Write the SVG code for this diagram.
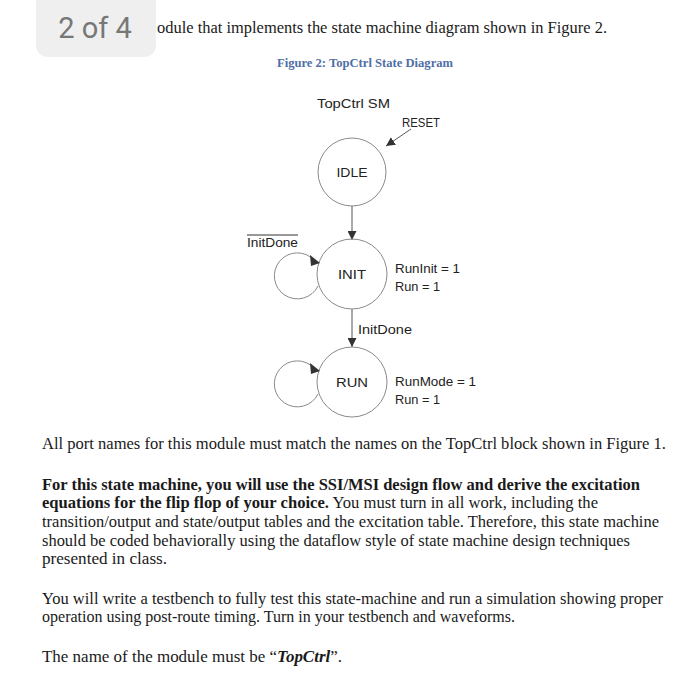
<svg xmlns="http://www.w3.org/2000/svg" width="700" height="690" viewBox="0 0 700 690">
<style>
.body{font-family:"Liberation Serif","Times New Roman",serif;font-size:17px;fill:#1a1a1a}
.b{font-weight:bold}
.sm{font-family:"Liberation Sans",Arial,sans-serif;font-size:13.5px;fill:#222}
.st{fill:none;stroke:#8a8a8a;stroke-width:1}
.cn{fill:none;stroke:#555;stroke-width:1}
</style>
<defs>
<marker id="ah" viewBox="0 0 10 10" refX="10" refY="5" markerWidth="9" markerHeight="9" markerUnits="userSpaceOnUse" orient="auto">
<path d="M0,0 L10,5 L0,10 z" fill="#333"/>
</marker>
</defs>
<rect width="700" height="690" fill="#fff"/>
<g id="badge">
<rect x="36" y="-12" width="120" height="69" rx="12" fill="#efefef"/>
<text x="95" y="38" text-anchor="middle" font-family="Roboto,'Liberation Sans',sans-serif" font-size="29" fill="#777">2 of 4</text>
</g>
<text class="body" x="157" y="33" font-size="18" textLength="450" lengthAdjust="spacingAndGlyphs">odule that implements the state machine diagram shown in Figure 2.</text>
<text x="365" y="67" text-anchor="middle" font-family="'Liberation Serif',serif" font-weight="bold" font-size="12" fill="#4f6fa6" textLength="176" lengthAdjust="spacingAndGlyphs">Figure 2: TopCtrl State Diagram</text>
<text class="sm" x="317" y="108" font-size="14" textLength="73" lengthAdjust="spacingAndGlyphs">TopCtrl SM</text>
<g id="connectors">
<line class="cn" x1="411" y1="129" x2="386" y2="146" marker-end="url(#ah)"/>
<line class="cn" x1="352" y1="206" x2="352" y2="240" marker-end="url(#ah)"/>
<line class="cn" x1="352" y1="309" x2="352" y2="347" marker-end="url(#ah)"/>
</g>
<g id="reset">
<text class="sm" x="402" y="127" textLength="38" lengthAdjust="spacingAndGlyphs">RESET</text>
</g>
<g id="idle">
<circle class="st" cx="352" cy="172" r="34"/>
<text class="sm" x="352" y="177" text-anchor="middle" textLength="31" lengthAdjust="spacingAndGlyphs">IDLE</text>
</g>
<g id="init">
<circle class="st" cx="352" cy="274" r="35"/>
<text class="sm" x="352" y="279" text-anchor="middle" textLength="28" lengthAdjust="spacingAndGlyphs">INIT</text>
<text class="sm" x="395" y="273" textLength="65" lengthAdjust="spacingAndGlyphs">RunInit = 1</text>
<text class="sm" x="395" y="291" textLength="45" lengthAdjust="spacingAndGlyphs">Run = 1</text>
</g>
<g id="init-loop">
<path class="st" d="M318,286 A23,23 0 1 1 314,260"/>
<path d="M310,255 L320,263 L311,266 z" fill="#333"/>
<text class="sm" x="247" y="247" textLength="51" lengthAdjust="spacingAndGlyphs">InitDone</text>
<line x1="247" y1="235" x2="298" y2="235" stroke="#333" stroke-width="1.2"/>
</g>
<text class="sm" x="358" y="334" textLength="54" lengthAdjust="spacingAndGlyphs">InitDone</text>
<g id="run">
<circle class="st" cx="352" cy="382" r="35"/>
<text class="sm" x="352" y="387" text-anchor="middle" textLength="32" lengthAdjust="spacingAndGlyphs">RUN</text>
<text class="sm" x="395" y="386" textLength="81" lengthAdjust="spacingAndGlyphs">RunMode = 1</text>
<text class="sm" x="395" y="404" textLength="45" lengthAdjust="spacingAndGlyphs">Run = 1</text>
</g>
<g id="run-loop">
<path class="st" d="M318,394 A23,23 0 1 1 314,368"/>
<path d="M310,363 L320,371 L311,374 z" fill="#333"/>
</g>
<g id="text">
<text class="body" x="42" y="449" textLength="624" lengthAdjust="spacingAndGlyphs">All port names for this module must match the names on the TopCtrl block shown in Figure 1.</text>
<text class="body b" x="42" y="490" textLength="598" lengthAdjust="spacingAndGlyphs">For this state machine, you will use the SSI/MSI design flow and derive the excitation</text>
<text class="body" x="42" y="508" textLength="556" lengthAdjust="spacingAndGlyphs"><tspan class="b">equations for the flip flop of your choice.</tspan> You must turn in all work, including the</text>
<text class="body" x="42" y="527" textLength="617" lengthAdjust="spacingAndGlyphs">transition/output and state/output tables and the excitation table. Therefore, this state machine</text>
<text class="body" x="42" y="546" textLength="588" lengthAdjust="spacingAndGlyphs">should be coded behaviorally using the dataflow style of state machine design techniques</text>
<text class="body" x="42" y="564" textLength="125" lengthAdjust="spacingAndGlyphs">presented in class.</text>
<text class="body" x="42" y="604" textLength="621" lengthAdjust="spacingAndGlyphs">You will write a testbench to fully test this state-machine and run a simulation showing proper</text>
<text class="body" x="42" y="622" textLength="473" lengthAdjust="spacingAndGlyphs">operation using post-route timing. Turn in your testbench and waveforms.</text>
<text class="body" x="42" y="662" textLength="300" lengthAdjust="spacingAndGlyphs">The name of the module must be “<tspan font-weight="bold" font-style="italic">TopCtrl</tspan>”.</text>
</g>
</svg>
